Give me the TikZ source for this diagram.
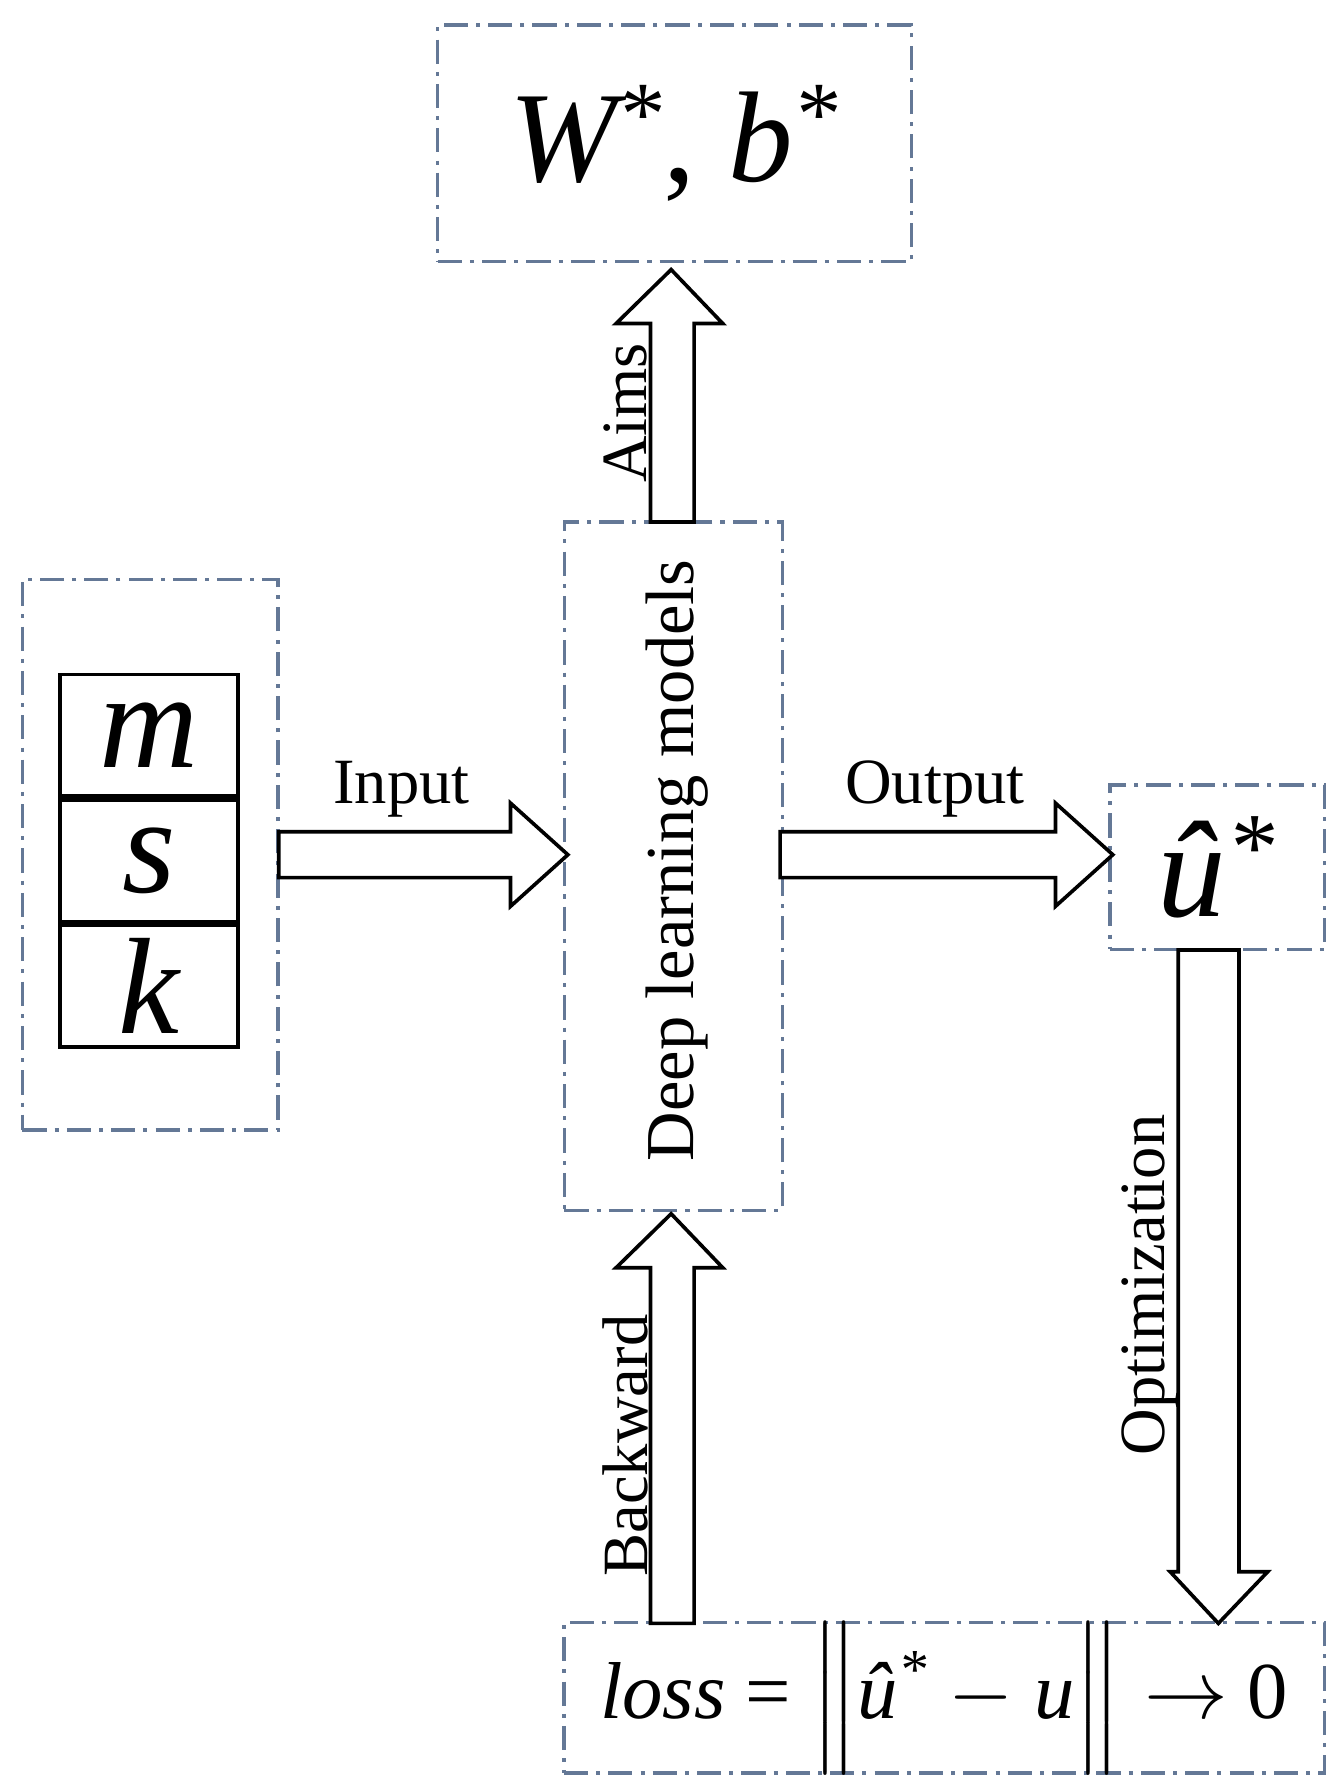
\documentclass[tikz,border=0pt]{standalone}
\usepackage{fontspec}
\setmainfont{Liberation Serif}
\usepackage{amsmath}
\definecolor{boxgray}{RGB}{100,120,150}
\begin{document}
\begin{tikzpicture}[x=0.01cm,y=-0.01cm,
  box/.style={draw=boxgray, line width=0.9pt, dash pattern=on 6pt off 2pt on 1pt off 2pt},
  cell/.style={draw, line width=0.9pt, minimum width=155*0.01cm, minimum height=106*0.01cm, inner sep=0pt},
  harrow/.style={draw, line width=0.9pt, fill=white},
  lbl/.style={font=\fontsize{16}{18}\selectfont, inner sep=0pt}]
\useasboundingbox (0,0) rectangle (1170,1562);
% boxes
\node (top) [box, minimum width=413*0.01cm, minimum height=206*0.01cm, inner sep=0pt] at (588,125)
  {\fontsize{32}{34}\selectfont\itshape W\textsuperscript{*}\upshape, \itshape b\textsuperscript{*}};
\node (mid) [box, minimum width=190*0.01cm, minimum height=600*0.01cm, inner sep=0pt] at (587,755) {};
\node [lbl, rotate=90, font=\fontsize{17}{19}\selectfont] at (590,750) {Deep learning models};
\node (left) [box, minimum width=223*0.01cm, minimum height=480*0.01cm, inner sep=0pt] at (131,745) {};
\node (cm) [cell] at (130,641) {\fontsize{34}{36}\selectfont\itshape m};
\node (cs) [cell, anchor=north] at (cm.south) {\fontsize{34}{36}\selectfont\itshape s};
\node (ck) [cell, anchor=north] at (cs.south) {\fontsize{34}{36}\selectfont\itshape k};
\node (uh) [box, minimum width=187*0.01cm, minimum height=143*0.01cm, inner sep=0pt] at (1061,756)
  {\fontsize{34}{36}\selectfont\itshape û\textsuperscript{*}};
\node (loss) [box, minimum width=663*0.01cm, minimum height=130*0.01cm, inner sep=0pt] at (823,1480)
  {\fontsize{20}{22}\selectfont\itshape loss \upshape = $\Big\|$\itshape û\textsuperscript{*} \upshape$-$ \itshape u\upshape$\Big\|\rightarrow$ 0};
% hollow arrows
\draw[harrow] (243,725) -- (445,725) -- (445,700) -- (495,745) -- (445,790) -- (445,765) -- (243,765) -- cycle;
\node[lbl] at (350,688) {Input};
\draw[harrow] (680,725) -- (920,725) -- (920,700) -- (970,745) -- (920,790) -- (920,765) -- (680,765) -- cycle;
\node[lbl] at (815,688) {Output};
\draw[harrow] (567,455) -- (567,282) -- (537,282) -- (585,235) -- (630,282) -- (605,282) -- (605,455) -- cycle;
\node[lbl, rotate=90] at (545,360) {Aims};
\draw[harrow] (567,1415) -- (567,1105) -- (537,1105) -- (585,1058) -- (630,1105) -- (605,1105) -- (605,1415) -- cycle;
\node[lbl, rotate=90] at (545,1260) {Backward};
\draw[harrow] (1027,828) -- (1027,1370) -- (1020,1370) -- (1062,1415) -- (1105,1370) -- (1080,1370) -- (1080,828) -- cycle;
\node[lbl, rotate=90] at (1002,1120) {Optimization};
\end{tikzpicture}
\end{document}
